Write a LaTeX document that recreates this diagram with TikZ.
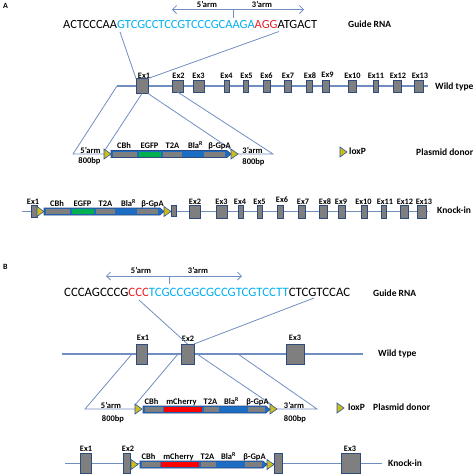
\documentclass[tikz,border=0pt]{standalone}
\usepackage{fontspec}
\setmainfont{Carlito}
\usetikzlibrary{arrows.meta}
\definecolor{linec}{RGB}{112,142,192}
\definecolor{exb}{RGB}{47,75,124}
\definecolor{exf}{RGB}{127,127,127}
\definecolor{barb}{RGB}{28,110,196}
\definecolor{egfp}{RGB}{0,176,80}
\definecolor{mch}{RGB}{255,0,0}
\definecolor{seqc}{RGB}{0,176,240}
\definecolor{seqr}{RGB}{235,30,40}
\definecolor{loxy}{RGB}{205,190,30}
\definecolor{loxb}{RGB}{47,85,151}
\tikzset{
  conn/.style={draw=linec, line width=0.8pt},
  chrom/.style={draw=linec, line width=1.1pt},
  exon/.style={draw=exb, fill=exf, line width=0.9pt, inner sep=0pt, outer sep=0pt},
  exlab/.style={font=\bfseries\fontsize{8.3}{9}\selectfont, inner sep=0pt, anchor=base},
  armlab/.style={font=\bfseries\fontsize{8.5}{9}\selectfont, inner sep=0pt, anchor=base},
  caslab/.style={font=\bfseries\fontsize{8.5}{9}\selectfont, inner sep=0pt, anchor=base},
  biglab/.style={font=\bfseries\fontsize{9.5}{11}\selectfont, inner sep=0pt, anchor=base west},
  panel/.style={font=\bfseries\fontsize{8}{9}\selectfont, inner sep=0pt, anchor=base west},
  seqa/.style={font=\fontsize{12.45}{14}\selectfont, inner sep=0pt, anchor=base west},
  seqb/.style={font=\fontsize{12.8}{14}\selectfont, inner sep=0pt, anchor=base west},
  dblarrow/.style={{Straight Barb[length=4pt,width=8pt]}-{Straight Barb[length=4pt,width=8pt]}},
}
% name x y w h labelx labely text
\newcommand\exn[8]{%
  \node[exon, minimum width=#4pt, minimum height=#5pt] (#1) at (#2,#3) {};
  \node[exlab] (#1l) at (#6,#7) {#8};}
% name x y
\newcommand\loxp[3]{%
  \filldraw[fill=loxy, draw=loxb, line width=0.6pt] (#2,{#3-5}) -- ({#2+7},#3) -- (#2,{#3+5}) -- cycle;
  \coordinate (#1) at ({#2+3.5},#3);}
% prefix x y
\newcommand\casseg[3]{%
 \begin{scope}[shift={(#2,#3)}]
  \filldraw[fill=barb, draw=exb, line width=0.6pt] (0,-3.5) -- (116,-3.5) -- (120,0) -- (116,3.5) -- (0,3.5) -- cycle;
  \fill[exf] (2,-2.5) rectangle (26,2.5);
  \fill[egfp] (28,-2.5) rectangle (50,2.5);
  \fill[exf] (52,-2.5) rectangle (71,2.5);
  \fill[exf] (93,-2.5) rectangle (114,2.5);
  \node[caslab] (#1c) at (13,-5.2) {CBh};
  \node[caslab] (#1e) at (38.5,-5.2) {EGFP};
  \node[caslab] (#1t) at (61.5,-5.2) {T2A};
  \node[caslab] (#1b) at (84.5,-5.2) {Bla\textsuperscript{R}};
  \node[caslab] (#1p) at (108.5,-5.2) {β-GpA};
 \end{scope}}
\newcommand\cassmc[3]{%
 \begin{scope}[shift={(#2,#3)}]
  \filldraw[fill=barb, draw=exb, line width=0.6pt] (0,-3.5) -- (123,-3.5) -- (127,0) -- (123,3.5) -- (0,3.5) -- cycle;
  \fill[exf] (1.5,-2.5) rectangle (19.5,2.5);
  \fill[mch] (20.5,-2.5) rectangle (59,2.5);
  \fill[exf] (60.5,-2.5) rectangle (75.5,2.5);
  \fill[exf] (104.5,-2.5) rectangle (122,2.5);
  \node[caslab] (#1c) at (8.5,-5.2) {CBh};
  \node[caslab] (#1m) at (38.5,-5.2) {mCherry};
  \node[caslab] (#1t) at (67.5,-5.2) {T2A};
  \node[caslab] (#1b) at (88.5,-5.2) {Bla\textsuperscript{R}};
  \node[caslab] (#1p) at (114.5,-5.2) {β-GpA};
 \end{scope}}
\begin{document}
\begin{tikzpicture}[x=1pt,y=-1pt]
\useasboundingbox (0,0) rectangle (474,475);
% ================= Panel A =================
\node[panel] (pA) at (3,8.3) {A};
\coordinate (aL) at (172,9.5); \coordinate (aR) at (304,9.5);
\coordinate (aT) at (233,9.5); \coordinate (aTb) at (233,17.5);
\draw[conn, dblarrow] (aL) -- (aR);
\draw[conn] (aT) -- (aTb);
\node[armlab] (a5) at (207,7.5) {5'arm};
\node[armlab] (a3) at (262,7.5) {3'arm};
\node[seqa] (sqA) at (63,28.3) {ACTCCCAA\textcolor{seqc}{GTCGCCTCCGTCCCGCAAGA}\textcolor{seqr}{AGG}ATGACT};
\node[biglab] (grA) at (348,27.5) {Guide RNA};
% wild type
\coordinate (wA0) at (117,86); \coordinate (wA1) at (428,86);
\draw[chrom] (wA0) -- (wA1);
\exn{a1}{142}{86}{12}{15}{144}{78.3}{Ex1}
\exn{a2}{177.5}{86}{11}{12}{178.5}{78.3}{Ex2}
\exn{a3}{198.5}{86}{11}{12}{198.5}{78.3}{Ex3}
\exn{a4}{226.5}{86}{5}{12}{226.5}{78.3}{Ex4}
\exn{a5}{245.5}{86}{5}{12}{246.5}{78.3}{Ex5}
\exn{a6}{266.5}{86}{7}{12}{266.5}{78.3}{Ex6}
\exn{a7}{287.5}{86}{7}{12}{288}{78.3}{Ex7}
\exn{a8}{309}{86}{6}{12}{310}{78.3}{Ex8}
\exn{a9}{325.5}{86}{7}{12}{327.5}{77}{Ex9}
\exn{a10}{352}{86}{8}{12}{352.5}{78.3}{Ex10}
\exn{a11}{375.5}{86}{5}{12}{376}{78.3}{Ex11}
\exn{a12}{397}{86}{8}{12}{398}{78.3}{Ex12}
\exn{a13}{418.5}{86}{9}{12}{420}{78.3}{Ex13}
\node[biglab] (wtA) at (435,89.5) {Wild type};
\coordinate (sA1) at (120,32); \coordinate (sA2) at (279,31.5);
\draw[conn] (sA1) -- (a1.north west);
\draw[conn] (sA2) -- (a1.north east);
% plasmid donor
\coordinate (pA0) at (73,154); \coordinate (pA5) at (104,154);
\coordinate (pA5t) at (105,150);
\coordinate (pA3t) at (232,150); \coordinate (pA3r) at (238,154);
\coordinate (pA4) at (273,154);
\draw[conn] (wA0) -- (pA0) -- (pA5);
\draw[conn] (a1.south) -- (pA5t);
\draw[conn] (a1.south east) -- (pA3t);
\draw[conn] (a2.south) -- (pA4) -- (pA3r);
\loxp{lA1}{104}{154}
\casseg{cA}{111}{154}
\loxp{lA2}{231}{154}
\node[armlab] (a5p) at (90.5,153) {5'arm};
\node[armlab] (a5b) at (89.5,163) {800bp};
\node[armlab] (a3p) at (252.5,153) {3'arm};
\node[armlab] (a3b) at (253.5,164) {800bp};
\loxp{lgA1}{340}{152}
\node[biglab] (lxA) at (349,154.5) {loxP};
\node[biglab] (pdA) at (416,155) {Plasmid donor};
% knock-in
\coordinate (kA0) at (22,211.5); \coordinate (kA1) at (428,211.5);
\draw[chrom] (kA0) -- (kA1);
\exn{k1}{34}{211.5}{6}{12}{33}{204}{Ex1}
\loxp{lK1}{37}{211.5}
\casseg{cK}{44}{211.5}
\loxp{lK2}{164}{211.5}
\node[exon, minimum width=5pt, minimum height=11pt] (k1b) at (173.5,211) {};
\exn{k2}{194.5}{211.5}{11}{13}{195}{204}{Ex2}
\exn{k3}{221.5}{211.5}{11}{13}{221.5}{204}{Ex3}
\exn{k4}{240.5}{211.5}{5}{13}{240}{204}{Ex4}
\exn{k5}{259.5}{211.5}{5}{13}{259.5}{204}{Ex5}
\exn{k6}{280}{211.5}{6}{13}{282}{202.5}{Ex6}
\exn{k7}{301.5}{211.5}{7}{13}{303}{204}{Ex7}
\exn{k8}{323}{211.5}{8}{13}{325}{204}{Ex8}
\exn{k9}{341.5}{211.5}{7}{13}{341}{204}{Ex9}
\exn{k10}{364}{211.5}{6}{13}{363.5}{204}{Ex10}
\exn{k11}{383.5}{211.5}{5}{13}{385}{204}{Ex11}
\exn{k12}{404}{211.5}{8}{13}{405}{204}{Ex12}
\exn{k13}{421.5}{211.5}{9}{13}{424}{204}{Ex13}
\node[biglab] (kiA) at (437,213.5) {Knock-in};
% ================= Panel B =================
\node[panel] (pB) at (3,269) {B};
\coordinate (bL) at (106,276); \coordinate (bR) at (242,276);
\coordinate (bT) at (169,276); \coordinate (bTb) at (169,284);
\draw[conn, dblarrow] (bL) -- (bR);
\draw[conn] (bT) -- (bTb);
\node[armlab] (b5) at (141,273) {5'arm};
\node[armlab] (b3) at (198,273) {3'arm};
\node[seqb] (sqB) at (64,296.7) {CCCAGCCCG\textcolor{seqr}{CCC}\textcolor{seqc}{TCGCCGGCGCCGTCGTCCTT}CTCGTCCAC};
\node[biglab] (grB) at (373,296) {Guide RNA};
% wild type
\coordinate (wB0) at (62,354); \coordinate (wBe) at (363,354);
\draw[chrom] (wB0) -- (wBe);
\exn{b1}{141.5}{354}{11}{20}{143}{340}{Ex1}
\exn{b2}{187.5}{354}{13}{20}{188}{341}{Ex2}
\exn{b3}{295}{354}{18}{20}{295}{340}{Ex3}
\node[biglab] (wtB) at (378,356.5) {Wild type};
\coordinate (sB1) at (139,300); \coordinate (sB2) at (314,298);
\draw[conn] (sB1) -- (b2.north);
\draw[conn] (sB2) -- (b2.north east);
% plasmid donor
\coordinate (wB1) at (132,354); \coordinate (wB2) at (178,354);
\coordinate (wB3) at (197,354); \coordinate (wB4) at (238,354);
\coordinate (pB0) at (85,409); \coordinate (pB5) at (135,409);
\coordinate (pB5t) at (135,405); \coordinate (pB3t) at (272,405);
\coordinate (pB3r) at (277,409); \coordinate (pB4) at (317,409);
\draw[conn] (wB1) -- (pB0) -- (pB5);
\draw[conn] (wB2) -- (pB5t);
\draw[conn] (wB3) -- (pB3t);
\draw[conn] (wB4) -- (pB4) -- (pB3r);
\loxp{lB1}{135}{409}
\cassmc{cB}{143}{409.5}
\loxp{lB2}{270}{409}
\node[armlab] (b5p) at (111,408) {5'arm};
\node[armlab] (b5b) at (113,421) {800bp};
\node[armlab] (b3p) at (294,408) {3'arm};
\node[armlab] (b3b) at (295,421) {800bp};
\loxp{lgB1}{337}{408}
\node[biglab] (lxB) at (348,410.5) {loxP};
\node[biglab] (pdB) at (373,410.5) {Plasmid donor};
% knock-in
\coordinate (kB0) at (65,463.5); \coordinate (kB1) at (382,463.5);
\draw[chrom] (kB0) -- (kB1);
\exn{c1}{85.5}{463}{11}{20}{86}{451}{Ex1}
\exn{c2}{126.5}{463}{7}{20}{128}{451}{Ex2}
\loxp{lC1}{131}{464.5}
\cassmc{cC}{140}{464.5}
\loxp{lC2}{267}{464.5}
\node[exon, minimum width=8pt, minimum height=20pt] (c2b) at (278,463) {};
\exn{c3}{350.5}{463}{19}{20}{350}{451}{Ex3}
\node[biglab] (kiB) at (388,466) {Knock-in};
\end{tikzpicture}
\end{document}
